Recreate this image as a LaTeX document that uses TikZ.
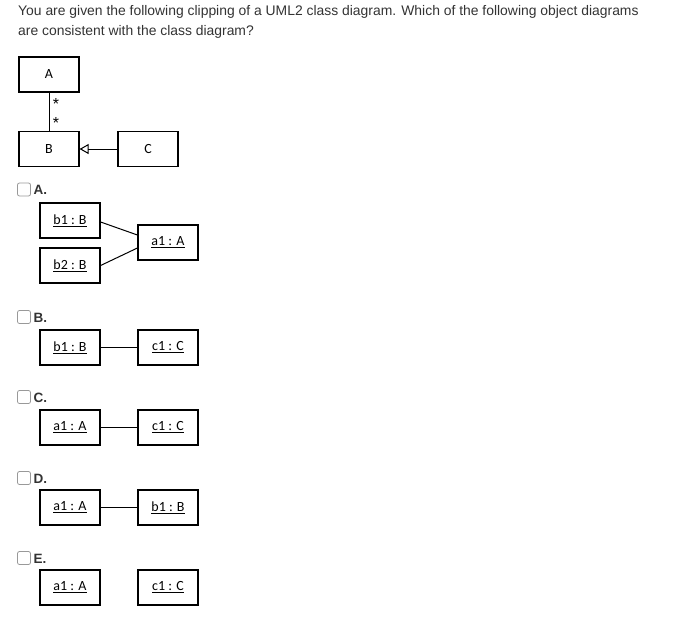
\documentclass[tikz,border=0pt]{standalone}
\usepackage{fontspec}
\setmainfont{Liberation Sans}
\newfontfamily\carlitofont{Carlito}
\usetikzlibrary{arrows.meta}
\definecolor{txt}{HTML}{333333}
\begin{document}
\begin{tikzpicture}[x=1pt,y=-1pt,
 cls/.style={draw,line width=1.2pt,minimum width=60pt,minimum height=35pt,font=\carlitofont\fontsize{14}{16}\selectfont,inner sep=0},
 obj/.style={cls},
 lnk/.style={line width=1pt},
 cb/.style={draw=gray!80,line width=0.8pt,rounded corners=2pt,minimum size=13pt,inner sep=0},
 opt/.style={anchor=west,font=\bfseries\fontsize{13.5}{15}\selectfont,text=txt}]
\useasboundingbox (0,0) rectangle (700,623);
\node[anchor=north west,align=left,text=txt,font=\fontsize{13.9}{20.5}\selectfont,inner sep=0] (q) at (18,5) {You are given the following clipping of a UML2 class diagram. Which of the following object diagrams\\are consistent with the class diagram?};
\node[cls] (A) at (49,74.5) {A};
\node[cls] (B) at (49,149) {B};
\node[cls] (C) at (148,149) {C};
\draw[lnk] (A) -- (B) node[pos=0.3,right,font=\fontsize{16}{16}\selectfont]{*} node[pos=0.8,right,font=\fontsize{16}{16}\selectfont]{*};
\draw[lnk,-{Triangle[open,length=9pt,width=10pt]}] (C) -- (B);
% A
\node[cb] (cA) at (24,189.5) {};
\node[opt] (lA) at (30,190) {A.};
\node[obj] (b1) at (70,220.5) {\underline{b1 : B}};
\node[obj] (b2) at (70,265.5) {\underline{b2 : B}};
\node[obj] (a1) at (168,242.5) {\underline{a1 : A}};
\draw[lnk] ([yshift=-1.5pt]b1.east) -- ([yshift=7.5pt]a1.west);
\draw[lnk] ([yshift=0pt]b2.east) -- ([yshift=-5.5pt]a1.west);
% B
\node[cb] (cB) at (24,317) {};
\node[opt] (lB) at (30,317.5) {B.};
\node[obj] (bb1) at (70,347.5) {\underline{b1 : B}};
\node[obj] (bc1) at (168,347.5) {\underline{c1 : C}};
\draw[lnk] (bb1) -- (bc1);
% C
\node[cb] (cC) at (24,397) {};
\node[opt] (lC) at (30,397.5) {C.};
\node[obj] (ca1) at (70,427.5) {\underline{a1 : A}};
\node[obj] (cc1) at (168,427.5) {\underline{c1 : C}};
\draw[lnk] (ca1) -- (cc1);
% D
\node[cb] (cD) at (24,478) {};
\node[opt] (lD) at (30,478.5) {D.};
\node[obj] (da1) at (70,507.5) {\underline{a1 : A}};
\node[obj] (db1) at (168,507.5) {\underline{b1 : B}};
\draw[lnk] (da1) -- (db1);
% E
\node[cb] (cE) at (24,558) {};
\node[opt] (lE) at (30,558.5) {E.};
\node[obj] (ea1) at (70,587.5) {\underline{a1 : A}};
\node[obj] (ec1) at (168,587.5) {\underline{c1 : C}};
\end{tikzpicture}
\end{document}
